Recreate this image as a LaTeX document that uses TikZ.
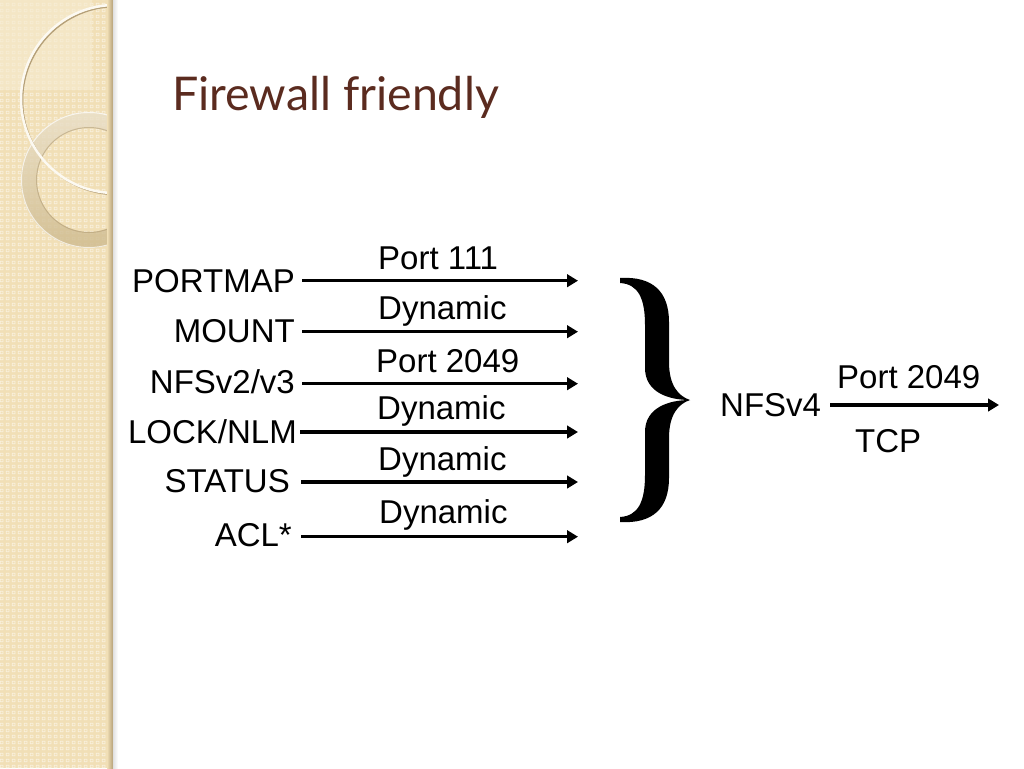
\documentclass[tikz,border=0pt]{standalone}
\usepackage{fontspec}
\setmainfont{Liberation Sans}
\newfontfamily\titlefont{Lato}
\usetikzlibrary{arrows.meta,patterns.meta}
\definecolor{stripcol}{HTML}{F1DFB6}
\definecolor{lightcol}{HTML}{F6EBCF}
\definecolor{ringtop}{HTML}{EAE0CA}
\definecolor{ringbot}{HTML}{CDB98C}
\definecolor{edgecol}{HTML}{B5A078}
\definecolor{titlecol}{HTML}{5B2B1F}
\tikzdeclarepattern{name=sqgrid, type=uncolored,
  bounding box={(0pt,0pt) and (6pt,6pt)}, tile size={(6pt,6pt)},
  code={\pgfpathrectangle{\pgfpoint{1.5pt}{1.5pt}}{\pgfpoint{3pt}{3pt}}
        \pgfsetlinewidth{0.9pt}\pgfusepath{stroke}}}
\tikzset{
  lbl/.style={font=\fontsize{33}{40}\selectfont, inner sep=0pt, anchor=base east},
  plbl/.style={font=\fontsize{33}{40}\selectfont, inner sep=0pt, anchor=base west},
  arr/.style={line width=3.2pt, -{Triangle[length=11pt,width=12.5pt]}},
}
\begin{document}
\begin{tikzpicture}[x=1pt,y=-1pt]
\useasboundingbox (0,0) rectangle (1024,768);
\fill[white] (0,0) rectangle (1024,768);
% decorative strip
\fill[stripcol] (0,0) rectangle (113,768);
\fill[pattern=sqgrid, pattern color=white!55!stripcol] (0,0) rectangle (113,768);
\fill[lightcol, opacity=0.6] (0,0) rectangle (92,90);
\begin{scope}
\clip (0,0) rectangle (112,768);
\shade[top color=ringtop, bottom color=ringbot, opacity=0.8, even odd rule] (89,180) circle (68) (89,180) circle (52);
\draw[white, opacity=0.7, line width=1pt] (89,180) circle (67.5);
\draw[edgecol, opacity=0.6, line width=1pt] (89,180) circle (52.5);
\draw[edgecol, line width=1.5pt] (116.5,100.5) circle (94);
\draw[white!70!lightcol, line width=2.5pt] (115,99) circle (94);
\end{scope}
\shade[left color=stripcol, right color=edgecol] (107,0) rectangle (113,768);
\shade[left color=black!12, right color=white] (113,0) rectangle (118,768);
% title
\node (title) [font=\titlefont\fontsize{46.5}{52}\selectfont, text=titlecol, inner sep=0pt, anchor=base west] at (172,110) {Firewall friendly};
% left labels
\node (l1) [lbl] at (295,292.7) {PORTMAP};
\node (l2) [lbl] at (295,342) {MOUNT};
\node (l3) [lbl] at (295,393) {NFSv2/v3};
\node (l4) [lbl] at (297,443) {LOCK/NLM};
\node (l5) [lbl] at (290,492) {STATUS};
\node (l6) [lbl] at (292,546) {ACL*};
% arrows
\coordinate (s1) at (302,280.7); \coordinate (e1) at (578,280.7);
\coordinate (s2) at (302,331.7); \coordinate (e2) at (578,331.7);
\coordinate (s3) at (302,383.7); \coordinate (e3) at (578,383.7);
\coordinate (s4) at (300,432);   \coordinate (e4) at (578,432);
\coordinate (s5) at (301,482);   \coordinate (e5) at (578,482);
\coordinate (s6) at (301,536.7); \coordinate (e6) at (578,536.7);
\foreach \i in {1,...,6} {\draw[arr] (s\i) -- (e\i);}
% port labels
\node (p1) [plbl] at (378,269) {Port 111};
\node (p2) [plbl] at (378,319) {Dynamic};
\node (p3) [plbl] at (376,372) {Port 2049};
\node (p4) [plbl] at (377,419) {Dynamic};
\node (p5) [plbl] at (378,470) {Dynamic};
\node (p6) [plbl] at (379,523) {Dynamic};
% brace
\fill (620,278) .. controls (653,276) and (669,292) .. (669,322)
  -- (669,362) .. controls (669,385) and (678,396) .. (690,400)
  .. controls (668,400) and (645,392) .. (645,368)
  -- (645,325) .. controls (645,298) and (638,284) .. (620,283) -- cycle;
\fill (690,400) .. controls (678,404) and (669,415) .. (669,438)
  -- (669,478) .. controls (669,508) and (653,524) .. (620,522)
  -- (620,517) .. controls (638,516) and (645,502) .. (645,475)
  -- (645,432) .. controls (645,408) and (668,400) .. (690,400) -- cycle;
% right part
\node (nfs4) [plbl] at (720,416) {NFSv4};
\coordinate (rs) at (830,405); \coordinate (re) at (999,405);
\draw[arr] (rs) -- (re);
\node (rp) [plbl] at (837,388) {Port 2049};
\node (tcp) [plbl] at (855,452) {TCP};
\end{tikzpicture}
\end{document}
